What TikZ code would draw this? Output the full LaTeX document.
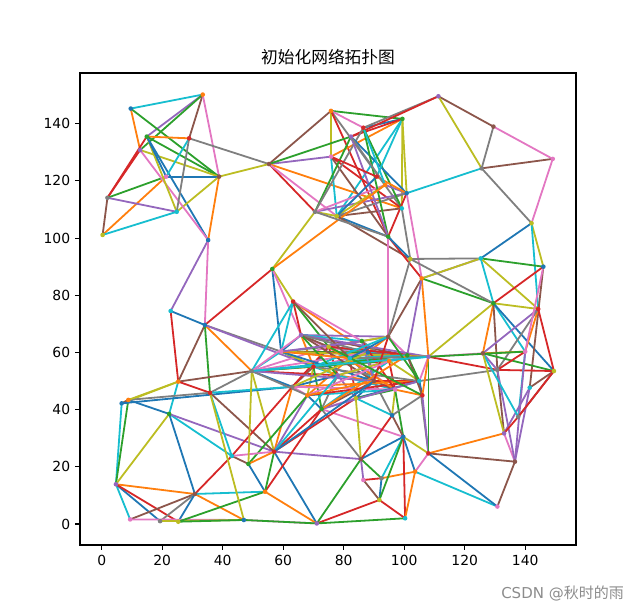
\documentclass[tikz,border=0pt]{standalone}
\usepackage{fontspec}
\setmainfont{DejaVu Sans}
\newfontfamily\cjk{Noto Sans CJK SC}
\definecolor{c0}{HTML}{1F77B4}
\definecolor{c1}{HTML}{FF7F0E}
\definecolor{c2}{HTML}{2CA02C}
\definecolor{c3}{HTML}{D62728}
\definecolor{c4}{HTML}{9467BD}
\definecolor{c5}{HTML}{8C564B}
\definecolor{c6}{HTML}{E377C2}
\definecolor{c7}{HTML}{7F7F7F}
\definecolor{c8}{HTML}{BCBD22}
\definecolor{c9}{HTML}{17BECF}
\tikzset{edge/.style={line width=1.8pt}, ticklab/.style={inner sep=0pt, font=\fontsize{13.9}{16}\selectfont}}
\begin{document}
\begin{tikzpicture}[x=1pt,y=1pt]
\useasboundingbox (0,0) rectangle (640,612);
\begin{scope}[shift={(101.7,88)},x=3.025pt,y=2.859pt]
\foreach \n/\x/\y in {
a1/9.6/145.3,a2/33.4/150.2,a3/14.9/135.5,a4/28.9/134.9,a5/12.7/130.8,a6/38.8/121.5,a7/21.3/121.5,a8/1.9/114.1,a9/0.3/101.1,a10/24.8/109.2,a11/35.2/99.3,
b1/75.8/144.5,b2/99.4/141.7,b3/86.5/138.6,b4/82.4/135.5,b5/55.3/125.9,b6/75.8/128.5,b7/70.5/109.2,b8/77.7/107.7,b9/99.2/110.4,b10/100.8/115.7,b11/93.7/118.6,b12/94.7/100.5,b13/90.9/121.5,
c1/111.3/149.6,c2/129.5/139,c3/149.1/127.7,c4/125.6/124.4,c5/142.1/105.2,
d1/22.8/74.5,d2/34.1/69.6,d3/25.3/49.8,
e1/56.4/89.2,e2/63.3/77.8,e3/65.9/66.1,e4/94.7/65.5,e5/59.3/60.3,e6/49.6/53.5,
f0/102/92.7,f1/125.3/92.9,f2/146/90,f3/105.8/85.9,f4/129.5/77.2,f5/144.3/75.2,f6/108/58.5,f7/126/59.7,f8/140/60.3,f9/130.8/53.9,f10/149.5/53.5,f11/141.5/47.7,
g1/6.6/42.2,g2/8.8/43.4,g3/22.3/38.5,g4/35.8/45.9,g5/4.7/13.9,g6/30.8/10.5,g7/9.4/1.6,g8/19.3/1.0,g9/25.3/0.8,g10/43/23.8,g11/47/1.4,g12/54/11.3,
h1/72.7/40.2,h2/57/25.3,h3/71.1/0.2,h4/85.7/22.7,h5/86.5/15.4,h6/92.5/16,h7/91.8/8.4,h8/100.3/2,h9/99.7/30.5,h10/103.6/18.3,h11/48.5/21,
i1/108/24.7,i2/133/31.7,i3/136.6/21.8,i4/130.8/6.1,i5/137.7/37.5,
k1/75/62,k2/82/58,k3/88/60,k4/95/57,k5/101/59,k6/70/55,k7/78/52,k8/90/50,k9/97/47,k10/63/48,k11/84/44,k12/105/50,k13/96/38,k14/68/45,k15/86/64,k16/106/45}
  \coordinate (\n) at (\x,\y);
\foreach \a/\b/\c in {
a1/a2/9,a2/a3/4,a2/a5/2,a2/a4/5,a2/a6/6,a1/a6/2,a1/a5/1,a3/a8/3,a5/a8/3,a3/a4/1,a3/a6/2,a4/b5/7,a5/a6/8,a6/b5/8,a3/a11/0,a4/a7/9,a7/a6/0,a8/a7/2,a9/a7/1,a8/a10/4,a9/a10/9,a8/a9/5,a10/a6/8,a6/a11/1,a5/a11/6,a3/a10/8,a4/a10/7,a3/a7/0,
b1/b2/2,b1/b3/6,b1/b6/8,b1/b5/5,b1/b9/7,b1/b12/3,b2/b3/0,b2/b6/1,b2/b8/9,b2/b9/8,b2/b4/3,b3/c1/7,b4/c1/3,b5/b6/4,b5/b4/2,b5/b9/1,b5/b7/3,b5/b8/6,b6/b9/3,b6/b8/9,b6/b12/5,b7/b8/8,b7/b10/4,b7/b11/6,b7/b4/2,b7/b3/7,b8/b9/5,b8/b11/8,b8/b10/7,b8/b12/0,b3/b9/2,b4/b10/0,b3/b12/2,b4/b12/4,b11/b10/4,b13/b6/3,b13/b2/9,b13/b8/0,b13/b10/1,b11/b4/7,b12/b10/3,b3/b11/9,b7/e1/8,b11/e1/1,b8/f0/5,b12/f3/3,b10/f3/6,b9/f0/7,b12/f0/0,b7/b12/7,b2/b10/8,
c1/c2/5,c1/c4/8,c2/c4/7,c2/c3/6,c4/c3/5,c4/c5/7,c3/c5/6,c4/b10/9,c5/f1/0,c5/f2/8,c5/f5/9,
a11/d1/4,a11/d2/6,d1/d2/0,d1/d3/3,d2/d3/5,d2/e5/7,d2/e1/3,d2/g4/2,d2/e6/1,d2/k6/4,d3/e6/5,d3/g1/8,d3/g4/3,d3/g3/9,
e1/e2/8,e1/e5/0,e1/e3/6,e2/e3/3,e2/e5/9,e2/e6/9,e2/k1/2,e2/k3/1,e3/e4/4,e3/k5/5,e3/k6/1,e3/e5/0,e3/k2/6,e4/b12/6,e4/f3/5,e4/f0/7,e5/e6/9,e5/k1/7,e5/k6/0,e5/k4/6,e5/k5/4,e6/k1/6,e6/k7/3,e6/h2/8,e6/k10/0,e6/g4/7,
f0/f1/7,f1/f2/2,f1/f3/4,f1/f4/9,f1/f5/8,f3/f4/2,f3/f6/1,f3/f1/8,f0/f4/7,f4/f6/8,f4/f7/1,f4/f5/8,f4/f8/9,f4/f9/5,f4/f2/3,f4/f10/0,f2/f11/5,f5/f7/4,f5/f8/1,f5/f10/3,f5/f9/7,f6/f7/6,f6/f9/3,f7/f8/1,f7/f9/4,f7/f10/2,f8/f9/3,f9/f10/3,f10/f11/5,f10/i5/5,k12/f9/7,f6/f8/2,f8/i5/9,f11/i2/4,f11/i3/4,f2/f8/6,
g1/g2/5,g2/g3/0,g1/g5/9,g2/g5/2,g2/g4/7,g1/k10/0,g2/d3/8,g3/g5/8,g3/g10/9,g3/g6/0,g3/h2/4,g4/g10/9,g4/h2/5,g5/g6/1,g5/g7/9,g5/g8/0,g5/g9/3,g6/g7/5,g6/g8/7,g6/g9/0,g6/g10/3,g6/g11/1,g6/g12/9,g7/g11/6,g8/g11/8,g9/g11/2,g9/g12/2,g4/g11/8,
h2/h3/0,h2/h1/3,h2/h4/4,h3/h4/2,h3/h7/3,h3/h8/2,h3/g12/1,h3/g11/6,h1/h4/7,h1/h9/6,h4/h6/2,h4/h9/0,h5/h6/3,h5/h7/5,h6/h7/0,h6/h9/9,h6/h10/1,h7/h8/3,h7/h9/2,h8/h9/3,h8/h10/1,h9/h10/0,h9/i1/8,h10/i4/9,h10/i1/6,h4/h5/4,
i1/i2/1,i1/i3/5,i1/i4/0,i3/i4/5,i2/i3/6,i2/f9/5,i3/f8/4,i3/f9/4,i5/f10/3,i5/f7/9,i2/f7/8,i2/i5/3,i1/k12/7,i1/k16/4,i1/f6/2,
k1/k2/4,k1/k3/9,k1/k4/6,k1/k5/7,k1/k6/0,k1/k7/3,k1/k15/1,k1/e4/4,k2/k3/2,k2/k4/8,k2/k8/0,k2/k9/6,k2/k11/3,k3/k4/5,k3/k5/9,k3/k8/7,k3/e4/1,k3/k15/2,k4/k5/0,k4/k9/3,k4/f6/9,k4/k12/8,k5/f6/1,k5/k12/2,k5/e4/6,k5/f3/4,k6/k7/9,k6/k10/5,k6/k14/8,k6/h1/2,k6/k2/6,k7/k8/1,k7/k11/4,k7/h1/7,k7/k9/9,k8/k9/5,k8/k11/0,k8/k13/7,k8/k12/3,k9/k13/8,k9/k16/1,k9/h9/2,k10/k14/6,k10/h2/1,k10/g4/9,k10/k1/3,k11/h1/6,k11/h4/8,k11/k13/9,k12/k16/0,k12/f6/6,k13/h9/5,k13/h4/3,k13/k16/7,k14/h1/0,k14/h2/4,k15/e4/8,k15/k4/7,k15/e3/9,e3/k1/5,e5/k3/2,e6/k6/1,k1/f6/3,k6/k4/6,e3/f6/4,e5/k7/8,h1/k4/9,h1/k8/5,h2/k11/3,k14/k2/1,k10/k7/0,e6/k14/7,h11/k14/2,h11/g10/5,h11/g12/0,g10/h2/6,g10/k10/3,h11/h2/1,h11/e6/8,g11/h3/2,g12/h1/3,g12/h2/2,
e5/k5/3,e5/f6/8,e6/k4/2,e6/k3/6,e6/k5/9,e3/k3/7,k10/k12/1,k10/k9/6,k14/k9/9,k14/k12/3,e5/k8/0,e3/k8/5,k6/k5/2,k6/k12/7,k1/k9/1,k15/k9/3,k15/k8/4,k7/k5/6,k7/k4/8,k2/k5/9,k2/f6/7,k11/k12/0,k11/k9/2,h1/k12/4,h1/k5/1,e4/k2/0,e4/k8/3,e4/k6/9,e2/k15/6,e2/k2/5,e3/k7/2,e5/k2/1,e6/k8/4,k10/k3/8,k14/k4/6,k14/k8/1,h2/k7/9,h2/k8/0,k16/k5/5,k16/f6/1,k12/e4/2,e6/e3/6,e6/f6/9,e5/k15/4,k1/k16/2}
  \draw[edge, c\c] (\a) -- (\b);
\foreach \n [count=\i from 0] in {a1,a2,a3,a4,a5,a6,a7,a8,a9,a10,a11,b1,b2,b3,b4,b5,b6,b7,b8,b9,b10,b11,b12,b13,c1,c2,c3,c4,c5,d1,d2,d3,e1,e2,e3,e4,e5,e6,f0,f1,f2,f3,f4,f5,f6,f7,f8,f9,f10,f11,g1,g2,g3,g4,g5,g6,g7,g8,g9,g10,g11,g12,h1,h2,h3,h4,h5,h6,h7,h8,h9,h10,h11,i1,i2,i3,i4,i5,k1,k2,k3,k4,k5,k6,k7,k8,k9,k10,k11,k12,k13,k14,k15,k16} {
  \pgfmathtruncatemacro{\ci}{mod(\i,10)}
  \fill[c\ci] (\n) circle (2.3pt);
}
\end{scope}
% axes frame
\draw[line width=1.1pt] (80,67) rectangle (576,539);
\foreach \v in {0,20,...,140} {
  \draw[line width=1.1pt] ({101.7+3.025*\v},67) -- ++(0,-4.9);
  \node[ticklab, anchor=north] (xt\v) at ({101.7+3.025*\v},57.3) {\v};
  \draw[line width=1.1pt] (80,{88+2.859*\v}) -- ++(-4.9,0);
  \node[ticklab, anchor=east] (yt\v) at (70.3,{88+2.859*\v}) {\v};
}
\node[inner sep=0pt, anchor=base] (title) at (328,548) {\cjk\fontsize{16.7}{19}\selectfont 初始化网络拓扑图};
\node[inner sep=0pt, anchor=base east, text=black!45] (wm) at (624,13) {\fontsize{15}{17}\selectfont CSDN @{\cjk 秋时的雨}};
\end{tikzpicture}
\end{document}
